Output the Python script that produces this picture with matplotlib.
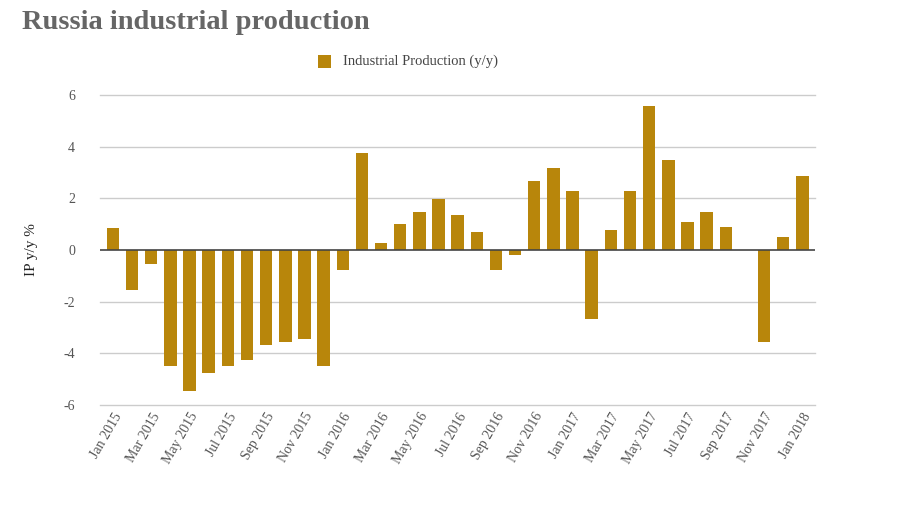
import matplotlib
matplotlib.use("Agg")
import matplotlib.pyplot as plt
from matplotlib.patches import Rectangle

months = ["Jan 2015","Feb 2015","Mar 2015","Apr 2015","May 2015","Jun 2015","Jul 2015","Aug 2015",
          "Sep 2015","Oct 2015","Nov 2015","Dec 2015",
          "Jan 2016","Feb 2016","Mar 2016","Apr 2016","May 2016","Jun 2016","Jul 2016","Aug 2016",
          "Sep 2016","Oct 2016","Nov 2016","Dec 2016",
          "Jan 2017","Feb 2017","Mar 2017","Apr 2017","May 2017","Jun 2017","Jul 2017","Aug 2017",
          "Sep 2017","Oct 2017","Nov 2017","Dec 2017","Jan 2018"]
ip_yy = [0.86, -1.55, -0.54, -4.48, -5.46, -4.76, -4.48, -4.26, -3.66, -3.56, -3.45, -4.48,
         -0.77, 3.77, 0.27, 0.99, 1.48, 1.97, 1.35, 0.71, -0.79, -0.18, 2.68, 3.16,
         2.30, -2.68, 0.76, 2.30, 5.56, 3.48, 1.10, 1.47, 0.88, 0.0, -3.56, 0.50, 2.88]
yticks = [-6, -4, -2, 0, 2, 4, 6]

color = "#B8860B"
serif = ["Liberation Serif", "DejaVu Serif"]

fig = plt.figure(figsize=(9, 5.27), dpi=100)
ax = fig.add_axes([0.111, 0.2315, 0.795, 0.5882])

x = list(range(len(months)))
ax.bar(x, ip_yy, width=0.65, color=color, zorder=3)
ax.set_xlim(-0.68, len(months) - 1 + 0.68)
ax.set_ylim(-6, 6)
ax.set_yticks(yticks)
ax.set_yticklabels([str(v) for v in yticks], fontfamily=serif, fontsize=10, color="#555555")
for v in yticks:
    if v != 0:
        ax.axhline(v, color="#cccccc", linewidth=1, zorder=0, clip_on=False)
ax.axhline(0, color="#444444", linewidth=1.2, zorder=4)
ax.tick_params(axis="y", length=0, pad=18)
ax.tick_params(axis="x", length=0, pad=4)
ax.set_xticks(x[::2])
ax.set_xticklabels(months[::2], rotation=60, ha="right", rotation_mode="anchor",
                   fontfamily=serif, fontsize=10, color="#555555")
for s in ax.spines.values():
    s.set_visible(False)
ax.set_ylabel("IP y/y %", fontfamily=serif, fontsize=11, color="#222222", labelpad=18)

fig.text(0.025, 0.958, "Russia industrial production", fontfamily=serif, fontweight="bold",
         fontsize=20.5, color="#666666", va="center", ha="left")

# legend
fig.patches.append(Rectangle((318/900, 1 - 68/527), 13/900, 13/527, transform=fig.transFigure,
                             facecolor=color, edgecolor="none"))
fig.text(343/900, 1 - 61/527, "Industrial Production (y/y)", fontfamily=serif, fontsize=10.5,
         color="#444444", va="center", ha="left")

fig.savefig("out.png", dpi=100)
